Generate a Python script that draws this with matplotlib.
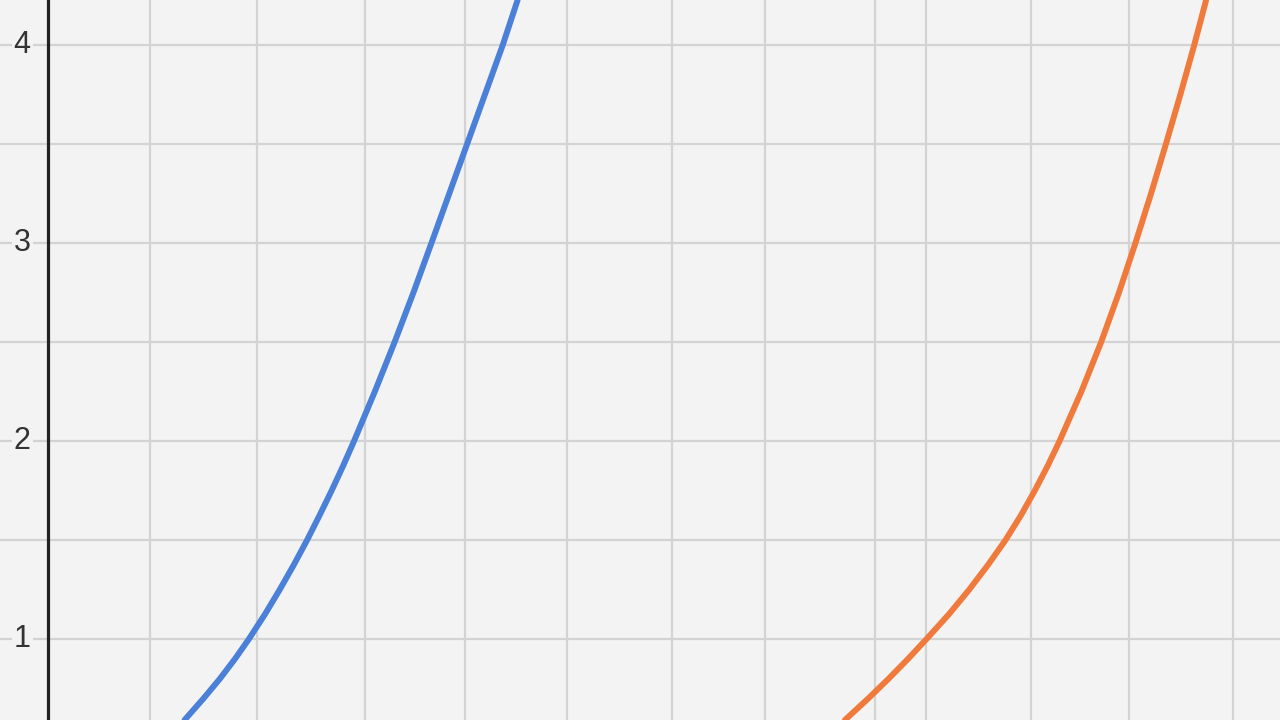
import numpy as np
import matplotlib.pyplot as plt

# curve points (x, y in graph units)
curve_y = [0.591, 0.7, 0.8, 0.9, 1.0, 1.125, 1.25, 1.375, 1.5, 1.625, 1.75,
           1.875, 2.0, 2.25, 2.5, 2.75, 3.0, 3.25, 3.5, 3.75, 4.0, 4.227]
blue_x = [0.690, 0.786, 0.869, 0.945, 1.015, 1.096, 1.171, 1.242, 1.309, 1.372, 1.433,
          1.491, 1.546, 1.651, 1.751, 1.846, 1.937, 2.027, 2.117, 2.207, 2.297, 2.372]
orange_x = [4.025, 4.143, 4.246, 4.344, 4.437, 4.550, 4.653, 4.748, 4.836, 4.914, 4.984,
            5.049, 5.109, 5.219, 5.319, 5.409, 5.492, 5.571, 5.646, 5.719, 5.789, 5.849]

# grid lines (the vertical ones are a bit uneven in the picture)
grid_x = [0.515, 1.056, 1.601, 2.106, 2.621, 3.152, 3.621, 4.177, 4.434, 4.965, 5.460, 5.985]
grid_y = [1.0, 1.5, 2.0, 2.5, 3.0, 3.5, 4.0]
tick_labels = ['1', '2', '3', '4']
tick_vals = [1, 2, 3, 4]

bg = '#f3f3f3'
fig = plt.figure(figsize=(12.8, 7.2), dpi=100, facecolor=bg)
ax = fig.add_axes([0, 0, 1, 1])
ax.set_facecolor(bg)
ax.set_xlim(-0.242, 6.222)
ax.set_ylim(0.591, 4.227)
ax.axis('off')

for gx in grid_x:
    ax.axvline(gx, color='#d3d3d3', lw=1.6, zorder=1)
for gy in grid_y:
    ax.axhline(gy, color='#d3d3d3', lw=1.6, zorder=1)

# y axis
ax.axvline(0, color='#222222', lw=2.3, zorder=3)

for v, lab in zip(tick_vals, tick_labels):
    ax.text(-0.13, v, lab, ha='center', va='center', fontsize=22,
            family='Liberation Sans', color='#333333', zorder=4,
            bbox=dict(facecolor=bg, edgecolor='none', pad=1.5))

ax.plot(blue_x, curve_y, color='#4a80d8', lw=4.3, solid_capstyle='round',
        solid_joinstyle='round', zorder=5)
ax.plot(orange_x, curve_y, color='#ef7a3b', lw=4.3, solid_capstyle='round',
        solid_joinstyle='round', zorder=5)

fig.savefig('out.png', dpi=100, facecolor=bg)
